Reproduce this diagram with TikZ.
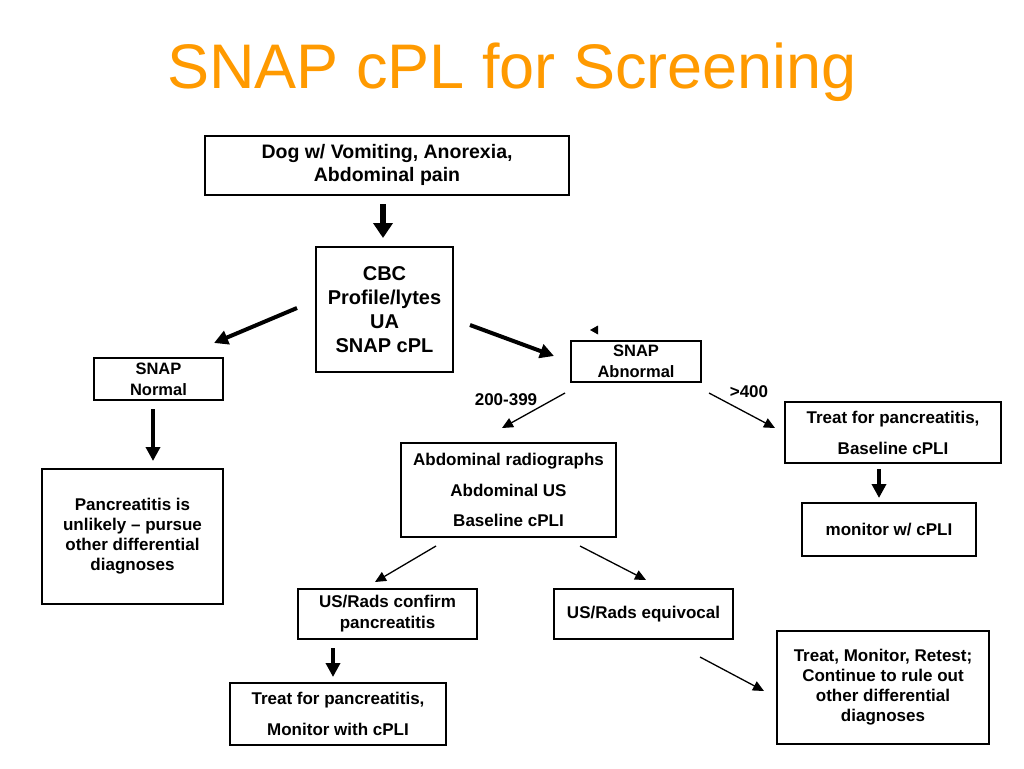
\documentclass[tikz,border=0pt]{standalone}
\usepackage{fontspec}
\setmainfont{Liberation Sans}
\usetikzlibrary{arrows.meta}
\definecolor{titleorange}{HTML}{FF9A00}
\begin{document}
\begin{tikzpicture}[x=1pt,y=-1pt,
  box/.style={draw,line width=1.5pt,inner sep=0pt,align=center,font=\fontsize{17}{20}\selectfont\bfseries},
  bigarrow/.style={line width=6pt,-{Triangle[width=19pt,length=15pt]}},
  midarrow/.style={line width=4pt,-{Triangle[width=14pt,length=14pt]}},
  thinarrow/.style={line width=1.3pt,-{Triangle[width=10pt,length=11pt]}},
  lbl/.style={inner sep=0pt,font=\fontsize{17}{20}\selectfont\bfseries}]
\useasboundingbox[fill=white] (0,0) rectangle (1024,768);
\node[font=\fontsize{63}{70}\selectfont, text=titleorange, inner sep=0pt, anchor=base] (title) at (512,88) {SNAP cPL for Screening};

\node[box,minimum width=364pt,minimum height=59pt,font=\fontsize{19.5}{23}\selectfont\bfseries] (dog) at (387,165.5) {\raisebox{-2pt}{\begin{tabular}{@{}c@{}}Dog w/ Vomiting, Anorexia,\\Abdominal pain\end{tabular}}};
\node[box,minimum width=137pt,minimum height=125pt,font=\fontsize{20}{24}\selectfont\bfseries] (cbc) at (384.5,309.5) {CBC\\Profile/lytes\\UA\\SNAP cPL};
\node[box,minimum width=129pt,minimum height=42pt,font=\fontsize{16.5}{21}\selectfont\bfseries] (normal) at (158.5,379) {SNAP\\Normal};
\node[box,minimum width=130pt,minimum height=41pt,font=\fontsize{16.5}{21}\selectfont\bfseries] (abn) at (636,361.5) {SNAP\\Abnormal};
\node[box,minimum width=181pt,minimum height=135pt] (unlikely) at (132.5,536.5) {Pancreatitis is\\unlikely -- pursue\\other differential\\diagnoses};
\node[box,minimum width=215pt,minimum height=94pt,font=\fontsize{17}{30.5}\selectfont\bfseries] (rads) at (508.5,490) {Abdominal radiographs\\Abdominal US\\Baseline cPLI};
\node[box,minimum width=216pt,minimum height=61pt,font=\fontsize{17}{31}\selectfont\bfseries] (treat1) at (893,432.5) {Treat for pancreatitis,\\Baseline cPLI};
\node[box,minimum width=174pt,minimum height=53pt] (mon) at (889,529.5) {monitor w/ cPLI};
\node[box,minimum width=179pt,minimum height=50pt,font=\fontsize{17}{21}\selectfont\bfseries] (confirm) at (387.5,614) {US/Rads confirm\\pancreatitis};
\node[box,minimum width=179pt,minimum height=50pt] (equiv) at (643.5,614) {US/Rads equivocal};
\node[box,minimum width=216pt,minimum height=62pt,font=\fontsize{17}{31}\selectfont\bfseries] (treat2) at (338,714) {Treat for pancreatitis,\\Monitor with cPLI};
\node[box,minimum width=212pt,minimum height=113pt] (retest) at (883,687.5) {Treat, Monitor, Retest;\\Continue to rule out\\other differential\\diagnoses};

\node[lbl] (l200) at (506,400) {200-399};
\node[lbl] (l400) at (749,392) {>400};

\coordinate (a1s) at (383,204); \coordinate (a1e) at (383,238);
\coordinate (a2s) at (297,308); \coordinate (a2e) at (214,343);
\coordinate (a3s) at (470,325); \coordinate (a3e) at (554,356);
\coordinate (a4s) at (153,409); \coordinate (a4e) at (153,461);
\coordinate (a5s) at (565,393); \coordinate (a5e) at (502,428);
\coordinate (a6s) at (709,393); \coordinate (a6e) at (775,428);
\coordinate (a7s) at (879,469); \coordinate (a7e) at (879,498);
\coordinate (a8s) at (436,546); \coordinate (a8e) at (375,582);
\coordinate (a9s) at (580,546); \coordinate (a9e) at (646,580);
\coordinate (a10s) at (333,648); \coordinate (a10e) at (333,677);
\coordinate (a11s) at (700,657); \coordinate (a11e) at (764,691);

\draw[bigarrow] (a1s) -- (a1e);
\draw[midarrow] (a2s) -- (a2e);
\draw[midarrow] (a3s) -- (a3e);
\draw[midarrow] (a4s) -- (a4e);
\draw[thinarrow] (a5s) -- (a5e);
\draw[thinarrow] (a6s) -- (a6e);
\draw[midarrow] (a7s) -- (a7e);
\draw[thinarrow] (a8s) -- (a8e);
\draw[thinarrow] (a9s) -- (a9e);
\draw[midarrow] (a10s) -- (a10e);
\draw[thinarrow] (a11s) -- (a11e);

\fill (590,330) -- (598,325.5) -- (598,334.5) -- cycle;
\end{tikzpicture}
\end{document}
